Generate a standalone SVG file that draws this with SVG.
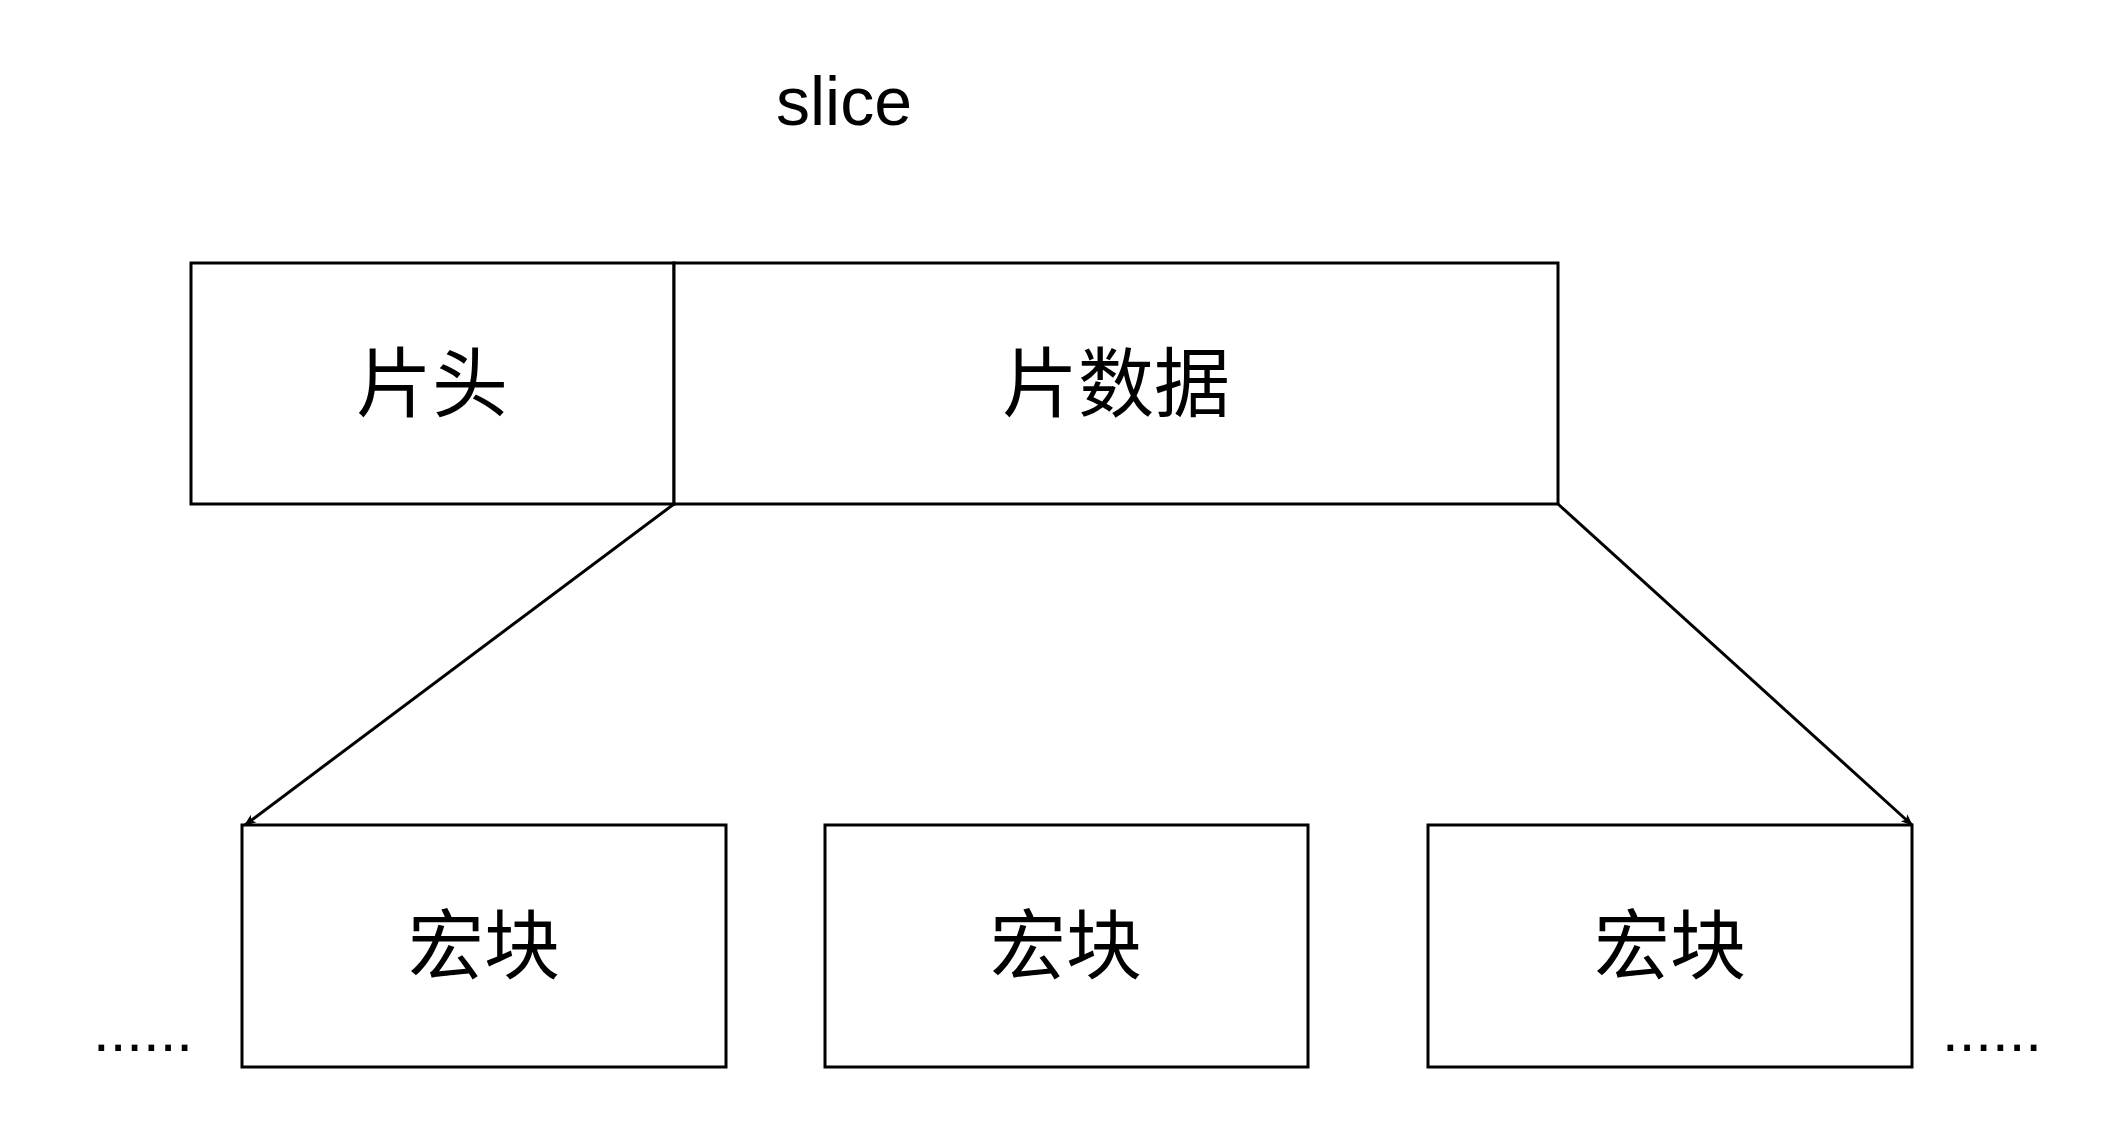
<svg xmlns="http://www.w3.org/2000/svg" width="2124" height="1124" viewBox="0 0 2124 1124">
<style>
.b{fill:#fff;stroke:#000;stroke-width:3}
.t{font-family:"Liberation Sans","Noto Sans CJK SC",sans-serif;font-size:76px;text-anchor:middle;dominant-baseline:central}
.c{stroke:#000;stroke-width:3;fill:none}
</style>
<defs><marker id="a" viewBox="0 0 20 20" refX="18" refY="10" markerWidth="12" markerHeight="12" markerUnits="userSpaceOnUse" orient="auto"><path d="M0,2 L20,10 L0,18 L5,10 Z" fill="#000"/></marker></defs>
<rect width="2124" height="1124" fill="#fff"/>
<text x="844" y="101" class="t" style="font-size:68px">slice</text>
<g id="header"><rect class="b" x="191" y="263" width="483" height="241"/><text class="t" x="432" y="384">片头</text></g>
<g id="data"><rect class="b" x="674" y="263" width="884" height="241"/><text class="t" x="1116" y="384">片数据</text></g>
<g id="mb1"><rect class="b" x="242" y="825" width="484" height="242"/><text class="t" x="484" y="946">宏块</text></g>
<g id="mb2"><rect class="b" x="825" y="825" width="483" height="242"/><text class="t" x="1066" y="946">宏块</text></g>
<g id="mb3"><rect class="b" x="1428" y="825" width="484" height="242"/><text class="t" x="1670" y="946">宏块</text></g>
<text class="t" x="143" y="1030" style="font-size:60px">......</text>
<text class="t" x="1992" y="1030" style="font-size:60px">......</text>
<g id="connectors">
<line class="c" x1="674" y1="504" x2="245" y2="825" marker-end="url(#a)"/>
<line class="c" x1="1558" y1="504" x2="1912" y2="825" marker-end="url(#a)"/>
</g>
</svg>
